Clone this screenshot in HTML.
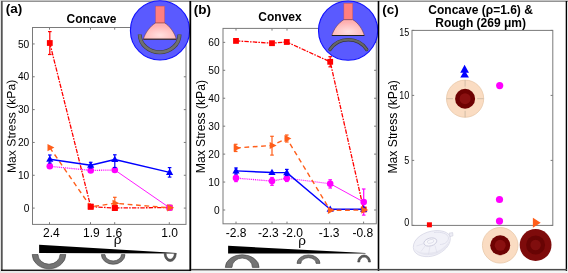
<!DOCTYPE html>
<html><head><meta charset="utf-8"><style>
html,body{margin:0;padding:0;background:#fff;}
svg{display:block;font-family:"Liberation Sans", sans-serif;will-change:transform;filter:blur(0.3px);}
</style></head><body>
<svg width="568" height="273" viewBox="0 0 568 273">
<rect x="0" y="0" width="568" height="273" fill="#fff"/>
<rect x="0" y="0" width="568" height="1" fill="#c4c4c4"/>
<rect x="0" y="1" width="568" height="0.8" fill="#7a7a7a"/>
<rect x="0" y="270.6" width="191" height="2.4" fill="#e8e8e8"/>
<rect x="191" y="270.2" width="377" height="2.8" fill="#f4f4f4"/>
<rect x="0" y="0" width="1" height="273" fill="#e0e0e0"/>
<rect x="1" y="1.1" width="1.7" height="269.6" fill="#555"/>
<rect x="32.5" y="27.5" width="153.5" height="196.9" fill="none" stroke="#7a7a7a" stroke-width="1"/>
<line x1="32.5" y1="208.1" x2="34.7" y2="208.1" stroke="#7a7a7a" stroke-width="1" />
<line x1="186" y1="208.1" x2="183.8" y2="208.1" stroke="#7a7a7a" stroke-width="1" />
<line x1="32.5" y1="175.27" x2="34.7" y2="175.27" stroke="#7a7a7a" stroke-width="1" />
<line x1="186" y1="175.27" x2="183.8" y2="175.27" stroke="#7a7a7a" stroke-width="1" />
<line x1="32.5" y1="142.44" x2="34.7" y2="142.44" stroke="#7a7a7a" stroke-width="1" />
<line x1="186" y1="142.44" x2="183.8" y2="142.44" stroke="#7a7a7a" stroke-width="1" />
<line x1="32.5" y1="109.61" x2="34.7" y2="109.61" stroke="#7a7a7a" stroke-width="1" />
<line x1="186" y1="109.61" x2="183.8" y2="109.61" stroke="#7a7a7a" stroke-width="1" />
<line x1="32.5" y1="76.78" x2="34.7" y2="76.78" stroke="#7a7a7a" stroke-width="1" />
<line x1="186" y1="76.78" x2="183.8" y2="76.78" stroke="#7a7a7a" stroke-width="1" />
<line x1="32.5" y1="43.95" x2="34.7" y2="43.95" stroke="#7a7a7a" stroke-width="1" />
<line x1="186" y1="43.95" x2="183.8" y2="43.95" stroke="#7a7a7a" stroke-width="1" />
<line x1="49.5" y1="224.4" x2="49.5" y2="222.2" stroke="#7a7a7a" stroke-width="1" />
<line x1="49.5" y1="27.5" x2="49.5" y2="29.7" stroke="#7a7a7a" stroke-width="1" />
<line x1="90.5" y1="224.4" x2="90.5" y2="222.2" stroke="#7a7a7a" stroke-width="1" />
<line x1="90.5" y1="27.5" x2="90.5" y2="29.7" stroke="#7a7a7a" stroke-width="1" />
<line x1="114.7" y1="224.4" x2="114.7" y2="222.2" stroke="#7a7a7a" stroke-width="1" />
<line x1="114.7" y1="27.5" x2="114.7" y2="29.7" stroke="#7a7a7a" stroke-width="1" />
<line x1="169.3" y1="224.4" x2="169.3" y2="222.2" stroke="#7a7a7a" stroke-width="1" />
<line x1="169.3" y1="27.5" x2="169.3" y2="29.7" stroke="#7a7a7a" stroke-width="1" />
<text x="29.3" y="211.7" font-size="10.2" text-anchor="end" font-weight="normal" fill="#000" >0</text>
<text x="29.3" y="178.87" font-size="10.2" text-anchor="end" font-weight="normal" fill="#000" >10</text>
<text x="29.3" y="146.04" font-size="10.2" text-anchor="end" font-weight="normal" fill="#000" >20</text>
<text x="29.3" y="113.21" font-size="10.2" text-anchor="end" font-weight="normal" fill="#000" >30</text>
<text x="29.3" y="80.38" font-size="10.2" text-anchor="end" font-weight="normal" fill="#000" >40</text>
<text x="29.3" y="47.55" font-size="10.2" text-anchor="end" font-weight="normal" fill="#000" >50</text>
<text x="51.33" y="236.6" font-size="12" text-anchor="middle" font-weight="normal" fill="#000" >2.4</text>
<text x="91.32" y="236.6" font-size="12" text-anchor="middle" font-weight="normal" fill="#000" >1.9</text>
<text x="113.9" y="236.6" font-size="12" text-anchor="middle" font-weight="normal" fill="#000" >1.6</text>
<text x="169.6" y="236.6" font-size="12" text-anchor="middle" font-weight="normal" fill="#000" >1.0</text>
<text x="5.8" y="13.3" font-size="13.5" text-anchor="start" font-weight="bold" fill="#000" >(a)</text>
<text x="91.5" y="22.6" font-size="12" text-anchor="middle" font-weight="bold" fill="#000" >Concave</text>
<text x="0" y="0" font-size="12" text-anchor="middle" font-weight="normal" fill="#000" transform="translate(15.5 126.4) rotate(-90.3) scale(1.015 1)">Max Stress (kPa)</text>
<text x="117.5" y="244.2" font-size="13.5" text-anchor="middle" font-weight="normal" fill="#000" >&#961;</text>
<polyline points="49.8,43 90.7,206.7 114.8,208 169.6,207.6" fill="none" stroke="#ff0000" stroke-width="1.3" stroke-dasharray="4.4 1.2 1.6 1.2" stroke-linejoin="round" />
<line x1="49.8" y1="31.6" x2="49.8" y2="54.5" stroke="#ff0000" stroke-width="1.2" />
<line x1="48" y1="31.6" x2="51.6" y2="31.6" stroke="#ff0000" stroke-width="1.2" />
<line x1="48" y1="54.5" x2="51.6" y2="54.5" stroke="#ff0000" stroke-width="1.2" />
<rect x="46.9" y="40.1" width="5.8" height="5.8" fill="#ff0000"/>
<rect x="87.8" y="203.8" width="5.8" height="5.8" fill="#ff0000"/>
<rect x="111.9" y="205.1" width="5.8" height="5.8" fill="#ff0000"/>
<rect x="166.7" y="204.7" width="5.8" height="5.8" fill="#ff0000"/>
<polyline points="49.8,147.6 90.7,206.8 114.8,203.3 169.6,207.8" fill="none" stroke="#ff5e1a" stroke-width="1.4" stroke-dasharray="4.8 3.6" stroke-linejoin="round" />
<line x1="114.8" y1="197.3" x2="114.8" y2="208" stroke="#ff5e1a" stroke-width="1.2" />
<line x1="113" y1="197.3" x2="116.6" y2="197.3" stroke="#ff5e1a" stroke-width="1.2" />
<line x1="113" y1="208" x2="116.6" y2="208" stroke="#ff5e1a" stroke-width="1.2" />
<polygon points="47.5,144 54.4,147.6 47.5,151.2" fill="#ff5e1a"/>
<polyline points="49.8,166.3 90.7,170.4 114.8,170" fill="none" stroke="#ff00ff" stroke-width="1.3" stroke-dasharray="1 0.9" stroke-linejoin="round" />
<line x1="114.8" y1="170" x2="169.6" y2="207.8" stroke="#ff00ff" stroke-width="0.9" />
<circle cx="49.8" cy="166.3" r="3.3" fill="#ff00ff"/>
<circle cx="90.7" cy="170.4" r="3.3" fill="#ff00ff"/>
<circle cx="114.8" cy="170" r="3.3" fill="#ff00ff"/>
<circle cx="169.6" cy="207.8" r="3.3" fill="#ff00ff"/>
<polyline points="49.8,159.3 90.7,165.3 114.8,159.5 169.6,172.4" fill="none" stroke="#0000ff" stroke-width="1.4"  stroke-linejoin="round" />
<line x1="49.8" y1="155" x2="49.8" y2="163" stroke="#0000ff" stroke-width="1.2" />
<line x1="48" y1="155" x2="51.6" y2="155" stroke="#0000ff" stroke-width="1.2" />
<line x1="48" y1="163" x2="51.6" y2="163" stroke="#0000ff" stroke-width="1.2" />
<line x1="90.7" y1="162.3" x2="90.7" y2="168" stroke="#0000ff" stroke-width="1.2" />
<line x1="88.9" y1="162.3" x2="92.5" y2="162.3" stroke="#0000ff" stroke-width="1.2" />
<line x1="88.9" y1="168" x2="92.5" y2="168" stroke="#0000ff" stroke-width="1.2" />
<line x1="114.8" y1="154.8" x2="114.8" y2="167.5" stroke="#0000ff" stroke-width="1.2" />
<line x1="113" y1="154.8" x2="116.6" y2="154.8" stroke="#0000ff" stroke-width="1.2" />
<line x1="113" y1="167.5" x2="116.6" y2="167.5" stroke="#0000ff" stroke-width="1.2" />
<line x1="169.6" y1="167.6" x2="169.6" y2="177.1" stroke="#0000ff" stroke-width="1.2" />
<line x1="167.8" y1="167.6" x2="171.4" y2="167.6" stroke="#0000ff" stroke-width="1.2" />
<line x1="167.8" y1="177.1" x2="171.4" y2="177.1" stroke="#0000ff" stroke-width="1.2" />
<polygon points="49.8,155.46 46.2,161.86 53.4,161.86" fill="#0000ff"/>
<polygon points="90.7,161.46 87.1,167.86 94.3,167.86" fill="#0000ff"/>
<polygon points="114.8,155.66 111.2,162.06 118.4,162.06" fill="#0000ff"/>
<polygon points="169.6,168.56 166,174.96 173.2,174.96" fill="#0000ff"/>
<polygon points="112.5,199.7 119.4,203.3 112.5,206.9" fill="#ff5e1a"/>
<polygon points="167.3,204.2 174.2,207.8 167.3,211.4" fill="#ff5e1a"/>
<rect x="87.8" y="203.8" width="5.8" height="5.8" fill="#ff0000"/>
<rect x="111.9" y="205.1" width="5.8" height="5.8" fill="#ff0000"/>
<rect x="223" y="28.4" width="153.3" height="195.4" fill="none" stroke="#7a7a7a" stroke-width="1"/>
<line x1="223" y1="210" x2="225.2" y2="210" stroke="#7a7a7a" stroke-width="1" />
<line x1="376.3" y1="210" x2="374.1" y2="210" stroke="#7a7a7a" stroke-width="1" />
<line x1="223" y1="182.06" x2="225.2" y2="182.06" stroke="#7a7a7a" stroke-width="1" />
<line x1="376.3" y1="182.06" x2="374.1" y2="182.06" stroke="#7a7a7a" stroke-width="1" />
<line x1="223" y1="154.12" x2="225.2" y2="154.12" stroke="#7a7a7a" stroke-width="1" />
<line x1="376.3" y1="154.12" x2="374.1" y2="154.12" stroke="#7a7a7a" stroke-width="1" />
<line x1="223" y1="126.18" x2="225.2" y2="126.18" stroke="#7a7a7a" stroke-width="1" />
<line x1="376.3" y1="126.18" x2="374.1" y2="126.18" stroke="#7a7a7a" stroke-width="1" />
<line x1="223" y1="98.24" x2="225.2" y2="98.24" stroke="#7a7a7a" stroke-width="1" />
<line x1="376.3" y1="98.24" x2="374.1" y2="98.24" stroke="#7a7a7a" stroke-width="1" />
<line x1="223" y1="70.3" x2="225.2" y2="70.3" stroke="#7a7a7a" stroke-width="1" />
<line x1="376.3" y1="70.3" x2="374.1" y2="70.3" stroke="#7a7a7a" stroke-width="1" />
<line x1="223" y1="42.36" x2="225.2" y2="42.36" stroke="#7a7a7a" stroke-width="1" />
<line x1="376.3" y1="42.36" x2="374.1" y2="42.36" stroke="#7a7a7a" stroke-width="1" />
<line x1="236" y1="223.8" x2="236" y2="221.6" stroke="#7a7a7a" stroke-width="1" />
<line x1="236" y1="28.4" x2="236" y2="30.6" stroke="#7a7a7a" stroke-width="1" />
<line x1="272" y1="223.8" x2="272" y2="221.6" stroke="#7a7a7a" stroke-width="1" />
<line x1="272" y1="28.4" x2="272" y2="30.6" stroke="#7a7a7a" stroke-width="1" />
<line x1="287" y1="223.8" x2="287" y2="221.6" stroke="#7a7a7a" stroke-width="1" />
<line x1="287" y1="28.4" x2="287" y2="30.6" stroke="#7a7a7a" stroke-width="1" />
<line x1="329.7" y1="223.8" x2="329.7" y2="221.6" stroke="#7a7a7a" stroke-width="1" />
<line x1="329.7" y1="28.4" x2="329.7" y2="30.6" stroke="#7a7a7a" stroke-width="1" />
<line x1="363.6" y1="223.8" x2="363.6" y2="221.6" stroke="#7a7a7a" stroke-width="1" />
<line x1="363.6" y1="28.4" x2="363.6" y2="30.6" stroke="#7a7a7a" stroke-width="1" />
<text x="219.7" y="213.6" font-size="10.2" text-anchor="end" font-weight="normal" fill="#000" >0</text>
<text x="219.7" y="185.66" font-size="10.2" text-anchor="end" font-weight="normal" fill="#000" >10</text>
<text x="219.7" y="157.72" font-size="10.2" text-anchor="end" font-weight="normal" fill="#000" >20</text>
<text x="219.7" y="129.78" font-size="10.2" text-anchor="end" font-weight="normal" fill="#000" >30</text>
<text x="219.7" y="101.84" font-size="10.2" text-anchor="end" font-weight="normal" fill="#000" >40</text>
<text x="219.7" y="73.9" font-size="10.2" text-anchor="end" font-weight="normal" fill="#000" >50</text>
<text x="219.7" y="45.96" font-size="10.2" text-anchor="end" font-weight="normal" fill="#000" >60</text>
<text x="236.14" y="236.6" font-size="12" text-anchor="middle" font-weight="normal" fill="#000" >-2.8</text>
<text x="268.35" y="236.6" font-size="12" text-anchor="middle" font-weight="normal" fill="#000" >-2.3</text>
<text x="292.6" y="236.6" font-size="12" text-anchor="middle" font-weight="normal" fill="#000" >-2.0</text>
<text x="329.15" y="236.6" font-size="12" text-anchor="middle" font-weight="normal" fill="#000" >-1.3</text>
<text x="362.8" y="236.6" font-size="12" text-anchor="middle" font-weight="normal" fill="#000" >-0.8</text>
<text x="193.8" y="14.2" font-size="13.5" text-anchor="start" font-weight="bold" fill="#000" >(b)</text>
<text x="280" y="20.8" font-size="12" text-anchor="middle" font-weight="bold" fill="#000" >Convex</text>
<text x="0" y="0" font-size="12" text-anchor="middle" font-weight="normal" fill="#000" transform="translate(205.4 126.6) rotate(-90) scale(1.015 1)">Max Stress (kPa)</text>
<text x="302" y="245" font-size="13.5" text-anchor="middle" font-weight="normal" fill="#000" >&#961;</text>
<polyline points="236,40.9 272,43.2 286.8,42 330.2,61.8 363.7,209.5" fill="none" stroke="#ff0000" stroke-width="1.3" stroke-dasharray="4.4 1.2 1.6 1.2" stroke-linejoin="round" />
<line x1="330.2" y1="56.7" x2="330.2" y2="66.8" stroke="#ff0000" stroke-width="1.2" />
<line x1="328.4" y1="56.7" x2="332" y2="56.7" stroke="#ff0000" stroke-width="1.2" />
<line x1="328.4" y1="66.8" x2="332" y2="66.8" stroke="#ff0000" stroke-width="1.2" />
<rect x="233.1" y="38" width="5.8" height="5.8" fill="#ff0000"/>
<rect x="269.1" y="40.3" width="5.8" height="5.8" fill="#ff0000"/>
<rect x="283.9" y="39.1" width="5.8" height="5.8" fill="#ff0000"/>
<rect x="327.3" y="58.9" width="5.8" height="5.8" fill="#ff0000"/>
<rect x="360.8" y="206.6" width="5.8" height="5.8" fill="#ff0000"/>
<polyline points="236,178.1 272,181.1 286.8,178.2" fill="none" stroke="#ff00ff" stroke-width="1.3" stroke-dasharray="1 0.9" stroke-linejoin="round" />
<polyline points="286.8,178.2 330.2,183.7" fill="none" stroke="#ff00ff" stroke-width="1.1" stroke-dasharray="1 1" stroke-linejoin="round" />
<line x1="330.2" y1="183.7" x2="363.7" y2="202.05" stroke="#ff00ff" stroke-width="0.9" />
<line x1="236" y1="175" x2="236" y2="181.6" stroke="#ff00ff" stroke-width="1.2" />
<line x1="234.2" y1="175" x2="237.8" y2="175" stroke="#ff00ff" stroke-width="1.2" />
<line x1="234.2" y1="181.6" x2="237.8" y2="181.6" stroke="#ff00ff" stroke-width="1.2" />
<line x1="272" y1="177.5" x2="272" y2="185.3" stroke="#ff00ff" stroke-width="1.2" />
<line x1="270.2" y1="177.5" x2="273.8" y2="177.5" stroke="#ff00ff" stroke-width="1.2" />
<line x1="270.2" y1="185.3" x2="273.8" y2="185.3" stroke="#ff00ff" stroke-width="1.2" />
<line x1="286.8" y1="175" x2="286.8" y2="181.5" stroke="#ff00ff" stroke-width="1.2" />
<line x1="285" y1="175" x2="288.6" y2="175" stroke="#ff00ff" stroke-width="1.2" />
<line x1="285" y1="181.5" x2="288.6" y2="181.5" stroke="#ff00ff" stroke-width="1.2" />
<line x1="330.2" y1="179.8" x2="330.2" y2="188" stroke="#ff00ff" stroke-width="1.2" />
<line x1="328.4" y1="179.8" x2="332" y2="179.8" stroke="#ff00ff" stroke-width="1.2" />
<line x1="328.4" y1="188" x2="332" y2="188" stroke="#ff00ff" stroke-width="1.2" />
<line x1="363.7" y1="189" x2="363.7" y2="215.1" stroke="#ff00ff" stroke-width="1.2" />
<line x1="361.9" y1="189" x2="365.5" y2="189" stroke="#ff00ff" stroke-width="1.2" />
<line x1="361.9" y1="215.1" x2="365.5" y2="215.1" stroke="#ff00ff" stroke-width="1.2" />
<circle cx="236" cy="178.1" r="3.3" fill="#ff00ff"/>
<circle cx="272" cy="181.1" r="3.3" fill="#ff00ff"/>
<circle cx="286.8" cy="178.2" r="3.3" fill="#ff00ff"/>
<circle cx="330.2" cy="183.7" r="3.3" fill="#ff00ff"/>
<circle cx="363.7" cy="202.05" r="3.3" fill="#ff00ff"/>
<polyline points="236,170.9 272,172.5 286.8,172.6 330.2,209.3 363.7,209.2" fill="none" stroke="#0000ff" stroke-width="1.4"  stroke-linejoin="round" />
<line x1="286.8" y1="169.4" x2="286.8" y2="175.5" stroke="#0000ff" stroke-width="1.2" />
<line x1="285" y1="169.4" x2="288.6" y2="169.4" stroke="#0000ff" stroke-width="1.2" />
<line x1="285" y1="175.5" x2="288.6" y2="175.5" stroke="#0000ff" stroke-width="1.2" />
<line x1="236" y1="168" x2="236" y2="174" stroke="#0000ff" stroke-width="1.2" />
<line x1="234.2" y1="168" x2="237.8" y2="168" stroke="#0000ff" stroke-width="1.2" />
<line x1="234.2" y1="174" x2="237.8" y2="174" stroke="#0000ff" stroke-width="1.2" />
<polygon points="236,167.06 232.4,173.46 239.6,173.46" fill="#0000ff"/>
<polygon points="272,168.66 268.4,175.06 275.6,175.06" fill="#0000ff"/>
<polygon points="286.8,168.76 283.2,175.16 290.4,175.16" fill="#0000ff"/>
<polygon points="330.2,205.46 326.6,211.86 333.8,211.86" fill="#0000ff"/>
<polygon points="363.7,205.36 360.1,211.76 367.3,211.76" fill="#0000ff"/>
<polyline points="236,147.9 272,145.5 286.8,138.5 330.2,210.3 363.7,210.1" fill="none" stroke="#ff5e1a" stroke-width="1.4" stroke-dasharray="4.8 3.6" stroke-linejoin="round" />
<line x1="235.7" y1="144.3" x2="235.7" y2="151.5" stroke="#ff5e1a" stroke-width="1.2" />
<line x1="233.9" y1="144.3" x2="237.5" y2="144.3" stroke="#ff5e1a" stroke-width="1.2" />
<line x1="233.9" y1="151.5" x2="237.5" y2="151.5" stroke="#ff5e1a" stroke-width="1.2" />
<line x1="272" y1="136.3" x2="272" y2="155.1" stroke="#ff5e1a" stroke-width="1.2" />
<line x1="270.2" y1="136.3" x2="273.8" y2="136.3" stroke="#ff5e1a" stroke-width="1.2" />
<line x1="270.2" y1="155.1" x2="273.8" y2="155.1" stroke="#ff5e1a" stroke-width="1.2" />
<line x1="286.8" y1="135" x2="286.8" y2="142" stroke="#ff5e1a" stroke-width="1.2" />
<line x1="285" y1="135" x2="288.6" y2="135" stroke="#ff5e1a" stroke-width="1.2" />
<line x1="285" y1="142" x2="288.6" y2="142" stroke="#ff5e1a" stroke-width="1.2" />
<polygon points="233.7,144.3 240.6,147.9 233.7,151.5" fill="#ff5e1a"/>
<polygon points="269.7,141.9 276.6,145.5 269.7,149.1" fill="#ff5e1a"/>
<polygon points="284.5,134.9 291.4,138.5 284.5,142.1" fill="#ff5e1a"/>
<polygon points="327.9,206.7 334.8,210.3 327.9,213.9" fill="#ff5e1a"/>
<polygon points="361.4,206.5 368.3,210.1 361.4,213.7" fill="#ff5e1a"/>
<rect x="412" y="30.4" width="140.8" height="195" fill="none" stroke="#7a7a7a" stroke-width="1"/>
<line x1="412" y1="225.4" x2="414.2" y2="225.4" stroke="#7a7a7a" stroke-width="1" />
<line x1="552.8" y1="225.4" x2="550.6" y2="225.4" stroke="#7a7a7a" stroke-width="1" />
<line x1="412" y1="160.4" x2="414.2" y2="160.4" stroke="#7a7a7a" stroke-width="1" />
<line x1="552.8" y1="160.4" x2="550.6" y2="160.4" stroke="#7a7a7a" stroke-width="1" />
<line x1="412" y1="95.4" x2="414.2" y2="95.4" stroke="#7a7a7a" stroke-width="1" />
<line x1="552.8" y1="95.4" x2="550.6" y2="95.4" stroke="#7a7a7a" stroke-width="1" />
<line x1="412" y1="30.4" x2="414.2" y2="30.4" stroke="#7a7a7a" stroke-width="1" />
<line x1="552.8" y1="30.4" x2="550.6" y2="30.4" stroke="#7a7a7a" stroke-width="1" />
<text x="0" y="0" font-size="10" text-anchor="end" font-weight="normal" fill="#000" transform="translate(409.3 226.35) scale(0.9 1)">0</text>
<text x="0" y="0" font-size="10" text-anchor="end" font-weight="normal" fill="#000" transform="translate(409.3 163.8) scale(0.9 1)">5</text>
<text x="0" y="0" font-size="10" text-anchor="end" font-weight="normal" fill="#000" transform="translate(409.3 98.75) scale(0.9 1)">10</text>
<text x="0" y="0" font-size="10" text-anchor="end" font-weight="normal" fill="#000" transform="translate(409.3 35.7) scale(0.9 1)">15</text>
<text x="382.2" y="14.2" font-size="13.5" text-anchor="start" font-weight="bold" fill="#000" >(c)</text>
<text x="480.6" y="13.5" font-size="12" text-anchor="middle" font-weight="bold" fill="#000" >Concave (&#961;=1.6) &amp;</text>
<text x="480.6" y="27.3" font-size="12" text-anchor="middle" font-weight="bold" fill="#000" >Rough (269 &#956;m)</text>
<text x="0" y="0" font-size="12" text-anchor="middle" font-weight="normal" fill="#000" transform="translate(397 126.9) rotate(-90) scale(1.015 1)">Max Stress (kPa)</text>
<defs><radialGradient id="bellg" cx="0.5" cy="0.75" r="0.6"><stop offset="0" stop-color="#ffe0e0"/><stop offset="0.6" stop-color="#ffc4c4"/><stop offset="1" stop-color="#ffb0b0"/></radialGradient></defs>
<circle cx="160" cy="30.4" r="29.6" fill="#5a5aff" stroke="#1010ff" stroke-width="1.1"/>
<rect x="155.6" y="6.1" width="9.0" height="16.9" fill="#ff7f7f" stroke="#c05050" stroke-width="0.4"/>
<path d="M155.6,23 C150.6,25.5 144.9,33.2 143.4,39.2 L176.3,39.2 C174.8,33.2 169.6,25.5 164.6,23 Z" fill="url(#bellg)" stroke="#603030" stroke-width="0.5"/>
<line x1="143.4" y1="39.2" x2="176.3" y2="39.2" stroke="#202020" stroke-width="1" />
<path d="M139.8,34.4 A19.8,17.8 0 0 0 179.5,34.4" fill="none" stroke="#404040" stroke-width="4"/><path d="M139.8,34.4 A19.8,17.8 0 0 0 179.5,34.4" fill="none" stroke="#707070" stroke-width="2.8"/>
<circle cx="348.1" cy="30.6" r="29.6" fill="#5a5aff" stroke="#1010ff" stroke-width="1.1"/>
<rect x="343.9" y="3.3" width="8.800000000000011" height="16.4" fill="#ff7f7f" stroke="#c05050" stroke-width="0.4"/>
<path d="M343.9,19.7 C338.9,22.2 333.4,29.5 331.9,35.5 L364.3,35.5 C362.8,29.5 357.7,22.2 352.7,19.7 Z" fill="url(#bellg)" stroke="#603030" stroke-width="0.5"/>
<line x1="331.9" y1="35.5" x2="364.3" y2="35.5" stroke="#202020" stroke-width="1" />
<path d="M330,49.5 A22.1,22.1 0 0 1 366.7,49.5" fill="none" stroke="#383838" stroke-width="3.4" stroke-linecap="round"/><path d="M330,49.5 A22.1,22.1 0 0 1 366.7,49.5" fill="none" stroke="#666" stroke-width="2.2" stroke-linecap="round"/>
<polygon points="39.1,244.8 176.5,252.9 176.5,253.5 39.1,253.1" fill="#000"/>
<polygon points="228.1,245.8 365.5,252.9 365.5,253.5 228.1,253.6" fill="#000"/>
<path d="M32.2,254.5 A16.8,14.3 0 0 0 65.8,254.5 L60,254.5 A11,9.7 0 0 1 38,254.5 Z" fill="#747474" stroke="#3c3c3c" stroke-width="0.6" stroke-linejoin="round"/>
<path d="M101.4,254.6 A11.8,9.7 0 0 0 125.0,254.6 L121.4,254.6 A8.2,6.3 0 0 1 105.0,254.6 Z" fill="#747474" stroke="#3c3c3c" stroke-width="0.6" stroke-linejoin="round"/>
<path d="M164.2,253.6 A6,7.9 0 0 0 176.2,253.6 L174.29999999999998,253.6 A4.1,5.7 0 0 1 166.1,253.6 Z" fill="#5a5a5a" stroke="#3c3c3c" stroke-width="0.6" stroke-linejoin="round"/>
<path d="M225.29999999999998,267.4 A16.9,12.7 0 0 1 259.09999999999997,267.4 L252.39999999999998,267.4 A10.2,9.3 0 0 0 232.0,267.4 Z" fill="#747474" stroke="#3c3c3c" stroke-width="0.6" stroke-linejoin="round"/>
<path d="M297.0,263.4 A11.5,8.5 0 0 1 320.0,263.4 L316.1,263.4 A7.6,5.7 0 0 0 300.9,263.4 Z" fill="#747474" stroke="#3c3c3c" stroke-width="0.6" stroke-linejoin="round"/>
<path d="M357.70000000000005,262 A6.4,7 0 0 1 370.5,262 L368.5,262 A4.4,4.9 0 0 0 359.70000000000005,262 Z" fill="#5a5a5a" stroke="#3c3c3c" stroke-width="0.6" stroke-linejoin="round"/>
<circle cx="465.1" cy="98.7" r="18.6" fill="#fadcc2" stroke="#e8c8a8" stroke-width="0.8"/>
<line x1="465.1" y1="80.1" x2="465.1" y2="86.6" stroke="#c8b4a0" stroke-width="0.8" />
<line x1="465.1" y1="117.3" x2="465.1" y2="110.8" stroke="#c8b4a0" stroke-width="0.8" />
<line x1="446.5" y1="98.7" x2="453" y2="98.7" stroke="#c8b4a0" stroke-width="0.8" />
<line x1="483.7" y1="98.7" x2="477.2" y2="98.7" stroke="#c8b4a0" stroke-width="0.8" />
<circle cx="465.1" cy="98.7" r="10" fill="#6e0202"/>
<circle cx="465.1" cy="98.7" r="5.5" fill="#8a1010"/>
<circle cx="500.2" cy="245.3" r="17.8" fill="#fadcc2" stroke="#e8c8a8" stroke-width="0.8"/>
<circle cx="500.2" cy="245.3" r="10" fill="#6e0202"/>
<circle cx="500.2" cy="245.3" r="5.5" fill="#8a1010"/>
<circle cx="535.6" cy="245" r="15.9" fill="#7e0b0b"/>
<circle cx="535.6" cy="245" r="9.5" fill="#680404"/>
<circle cx="535.6" cy="245" r="5.2" fill="#800e0e"/>
<path d="M413.3,247.5 C413,238.5 424,231.2 436,230.6 C444.5,230.3 450.2,233.5 450.3,238.5 C450.5,245 444.5,251.5 436,255 C427,258.6 413.6,256.5 413.3,247.5 Z" fill="#f1f1f8" stroke="#d2d2e2" stroke-width="0.7"/>
<path d="M415,249 C417,254.5 427,257 436,254 C444,251 449.5,245 449.8,239 C447,246 440,251.5 431,252.5 C423,253.5 417,252 415,249 Z" fill="#e6e6f0"/>
<path d="M434,232.5 C441,231.5 448,233.5 448.5,238 C448.5,242 444,244.5 440,244.5" fill="none" stroke="#d8d8e6" stroke-width="0.7"/>
<ellipse cx="430.3" cy="242" rx="6.6" ry="3.9" transform="rotate(-15 430.3 242)" fill="#f7f7fb" stroke="#c8c8da" stroke-width="0.8"/>
<ellipse cx="430.6" cy="241.4" rx="3.4" ry="1.8" transform="rotate(-15 430.6 241.4)" fill="none" stroke="#d4d4e4" stroke-width="0.6"/>
<path d="M421,251.5 L425.5,245.5 M428.5,254.5 L430,246 M437,253 L435,245.5 M416.5,246 L424,243.5" stroke="#dcdcea" stroke-width="0.6"/>
<path d="M449,233.2 l3.6,-0.6 l0.4,3.2 l-3,0.8 z" fill="#eeeef6" stroke="#ccccdc" stroke-width="0.6"/>
<rect x="426.9" y="222.3" width="5" height="5" fill="#ff0000"/>
<polygon points="464.6,64.86 460.25,72.76 468.95,72.76" fill="#0000ff"/>
<polygon points="464.6,70.28 460.25,77.48 468.95,77.48" fill="#0000ff"/>
<circle cx="499.7" cy="85.6" r="3.6" fill="#ff00ff"/>
<circle cx="499.5" cy="199.5" r="3.6" fill="#ff00ff"/>
<circle cx="499.5" cy="221.1" r="3.6" fill="#ff00ff"/>
<polygon points="532.9,217.7 540.7,222.7 532.9,227.7" fill="#ff5e1a"/>
<rect x="189.4" y="1" width="1.8" height="270" fill="#000"/>
<rect x="377.7" y="1" width="1.6" height="270" fill="#000"/>
<rect x="565.7" y="1" width="1.4" height="270" fill="#000"/>
<rect x="1" y="269.6" width="190" height="1.3" fill="#000"/>
<rect x="191" y="268.9" width="376" height="1.5" fill="#4a4a4a"/>
</svg>
</body></html>
